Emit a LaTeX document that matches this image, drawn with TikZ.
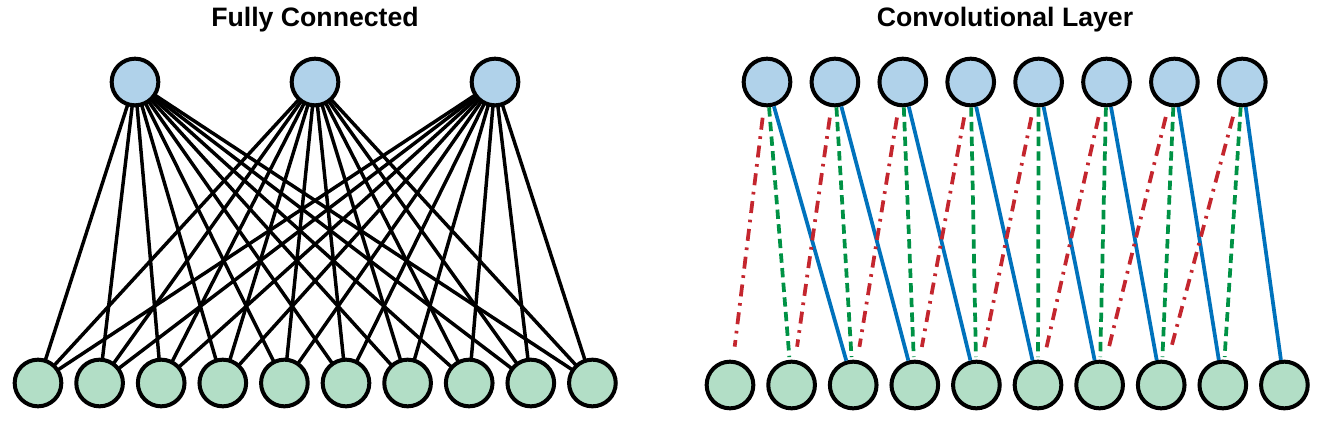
\documentclass[tikz,border=0pt]{standalone}
\usepackage{fontspec}
\setmainfont{Liberation Sans}
\usetikzlibrary{backgrounds}
\definecolor{ctop}{RGB}{176,210,234}
\definecolor{cbot}{RGB}{178,222,198}
\definecolor{cred}{RGB}{196,38,46}
\definecolor{cgreen}{RGB}{0,146,69}
\definecolor{cblue}{RGB}{0,114,188}
\tikzset{
  neuron/.style={circle, draw=black, line width=3pt, minimum size=35pt, inner sep=0pt},
  topn/.style={neuron, fill=ctop},
  botn/.style={neuron, fill=cbot},
  title/.style={font=\bfseries\fontsize{20}{22}\selectfont},
  full/.style={line width=2.6pt, black},
  wred/.style={line width=2.8pt, cred, dash pattern=on 9pt off 5pt on 2pt off 5pt, shorten <=8pt, shorten >=10pt},
  wgreen/.style={line width=2.8pt, cgreen, dash pattern=on 7pt off 4pt, shorten >=2pt},
  wblue/.style={line width=2.8pt, cblue}
}
\begin{document}
\begin{tikzpicture}[x=0.75pt, y=-0.75pt]
  \useasboundingbox (0,0) rectangle (1337,439);
  \node[title] (t1) at (315,20) {Fully Connected};
  \node[title] (t2) at (1005,20) {Convolutional Layer};
  % fully connected
  \foreach \i/\x in {1/135, 2/315, 3/495}
    \node[topn] (a\i) at (\x,82) {};
  \foreach \j in {1,...,10}
    \node[botn] (b\j) at ({38+61.6*(\j-1)},383) {};
  \begin{scope}[on background layer]
    \foreach \i in {1,2,3}
      \foreach \j in {1,...,10}
        \draw[full] (a\i.center) -- (b\j.center);
  \end{scope}
  % convolution
  \foreach \i in {1,...,8}
    \node[topn] (c\i) at ({767+67.9*(\i-1)},82) {};
  \foreach \j in {1,...,10}
    \node[botn] (d\j) at ({730+61.6*(\j-1)},385) {};
  \foreach \i [evaluate=\i as \k using int(\i+1), evaluate=\i as \m using int(\i+2)] in {1,...,8} {
    \draw[wred] (c\i) -- (d\i);
    \draw[wgreen] (c\i) -- (d\k);
    \draw[wblue] (c\i) -- (d\m);
  }
\end{tikzpicture}
\end{document}
